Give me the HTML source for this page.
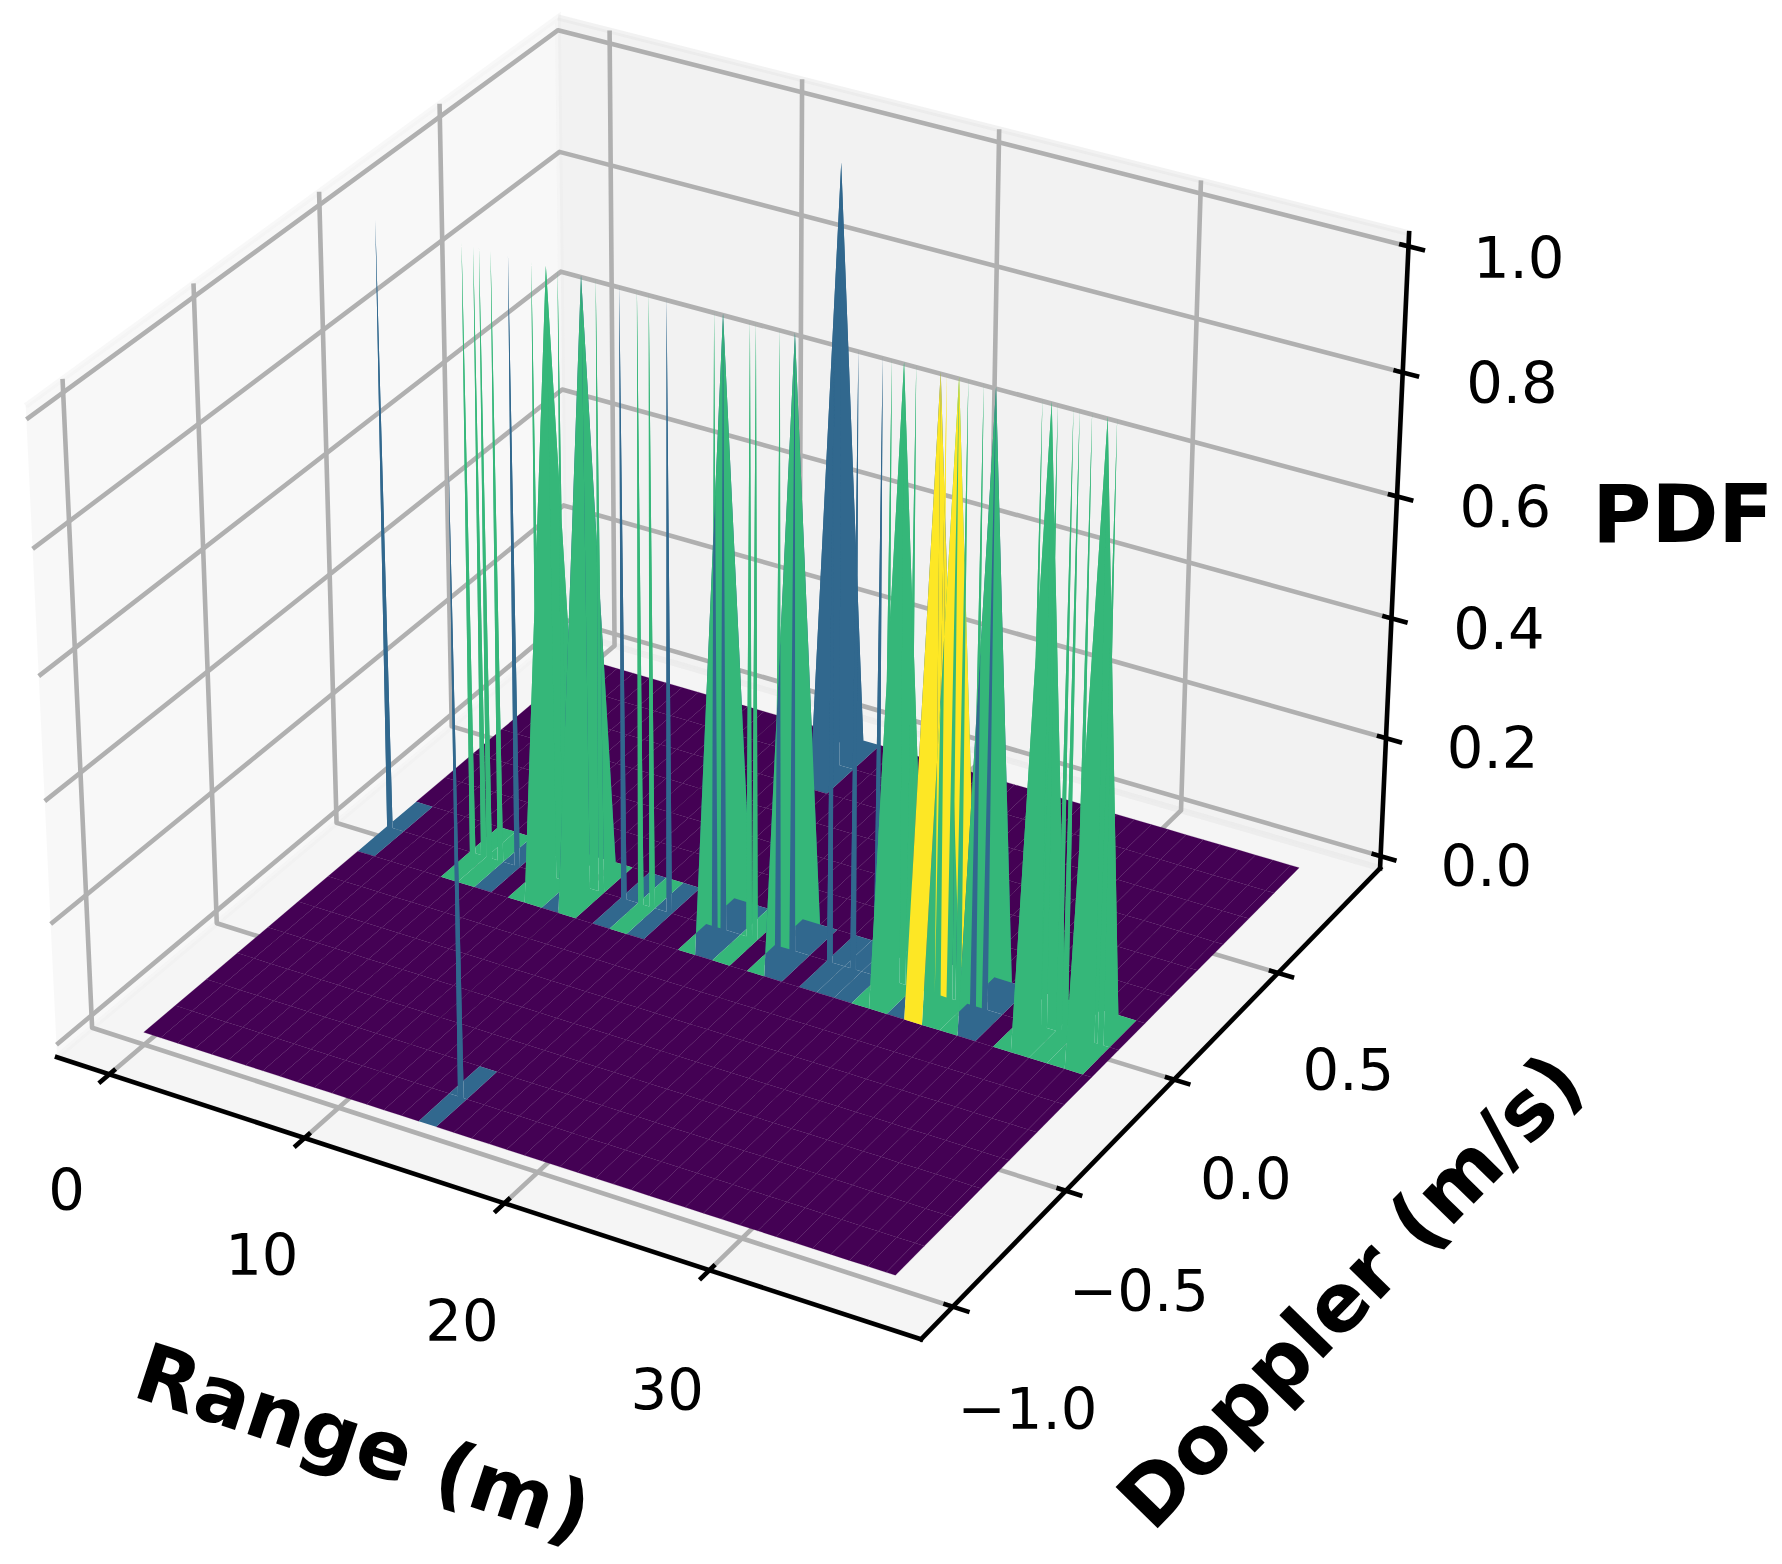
<!DOCTYPE html><html><head><meta charset="utf-8"><title>Range-Doppler PDF</title><style>html,body{margin:0;padding:0;background:#fff}svg{display:block}</style></head><body><svg width="1782" height="1564" viewBox="0 0 309.166265 271.344578"><defs><style>svg *{stroke-linejoin:round;stroke-linecap:butt}.p{fill:#440154;stroke:#440154;stroke-width:.035}.g{fill:none;stroke:#b0b0b0;stroke-width:.8}</style></defs><g><g><path d="M0 271.34 L309.17 271.34 L309.17 0 L0 0z" style="fill: #ffffff"/></g><g><path d="M-10.24 249.2 L256.6 249.2 L256.6 -17.64 L-10.24 -17.64z" style="fill: #ffffff"/></g><g><g><path d="M9.9 183.41 L98.02 109.54 L96.8 3.02 L4.46 70.4" style="fill: #f2f2f2; fill-opacity: 0.5; stroke: #f2f2f2; stroke-opacity: 0.5; stroke-linejoin: miter"/></g></g><g><g><path d="M98.02 109.54 L239.43 150.64 L244.47 40.45 L96.8 3.02" style="fill: #e6e6e6; fill-opacity: 0.5; stroke: #e6e6e6; stroke-opacity: 0.5; stroke-linejoin: miter"/></g></g><g><g><path d="M9.9 183.41 L159.8 232.36 L239.43 150.64 L98.02 109.54" style="fill: #ececec; fill-opacity: 0.5; stroke: #ececec; stroke-opacity: 0.5; stroke-linejoin: miter"/></g></g><g><g><path d="M18.98 186.37 L106.62 112.04 L105.76 5.29" class="g"/><path d="M52.83 197.43 L138.65 121.35 L139.16 13.76" class="g"/><path d="M87.52 208.76 L171.4 130.87 L173.35 22.42" class="g"/><path d="M123.07 220.37 L204.9 140.61 L208.36 31.29" class="g"/></g></g><g><g><path d="M10.85 65.74 L15.98 178.32 L165.31 226.71" class="g"/><path d="M33.57 49.16 L37.61 160.18 L184.91 206.59" class="g"/><path d="M55.36 33.26 L58.39 142.76 L203.7 187.31" class="g"/><path d="M76.26 18 L78.37 126.02 L221.73 168.81" class="g"/></g></g><g><g><path d="M239.52 148.53 L98 107.5 L9.8 181.25" class="g"/><path d="M240.46 128.08 L97.77 87.69 L8.79 160.3" class="g"/><path d="M241.41 107.28 L97.54 67.57 L7.76 138.99" class="g"/><path d="M242.38 86.13 L97.31 47.13 L6.72 117.3" class="g"/><path d="M243.37 64.63 L97.07 26.35 L5.66 95.23" class="g"/><path d="M244.37 42.75 L96.82 5.24 L4.58 72.76" class="g"/></g></g><g><g><path d="M9.9 183.41 L159.8 232.36" style="fill: none; stroke: #000000; stroke-width: 0.8; stroke-linecap: square"/></g><g><g><path d="M19.75 185.73 L17.45 187.67" style="fill: none; stroke: #000000; stroke-width: 0.8; stroke-linecap: square"/></g><g><text style="font-size: 10px; font-family: 'DejaVu Sans', 'Liberation Sans', sans-serif; text-anchor: middle" x="11.54" y="209.87">0</text></g></g><g><g><path d="M53.58 196.77 L51.33 198.76" style="fill: none; stroke: #000000; stroke-width: 0.8; stroke-linecap: square"/></g><g><text style="font-size: 10px; font-family: 'DejaVu Sans', 'Liberation Sans', sans-serif; text-anchor: middle" x="45.43" y="221.16">10</text></g></g><g><g><path d="M88.25 208.08 L86.05 210.12" style="fill: none; stroke: #000000; stroke-width: 0.8; stroke-linecap: square"/></g><g><text style="font-size: 10px; font-family: 'DejaVu Sans', 'Liberation Sans', sans-serif; text-anchor: middle" x="80.15" y="232.73">20</text></g></g><g><g><path d="M123.79 219.67 L121.64 221.77" style="fill: none; stroke: #000000; stroke-width: 0.8; stroke-linecap: square"/></g><g><text style="font-size: 10px; font-family: 'DejaVu Sans', 'Liberation Sans', sans-serif; text-anchor: middle" x="115.75" y="244.59">30</text></g></g><g><text style="font-weight: 700; font-size: 14px; font-family: 'DejaVu Sans', 'Liberation Sans', sans-serif; text-anchor: middle" x="61.54" y="254.87" transform="rotate(-341.91 61.54 254.87)">Range (m)</text></g></g><g><g><path d="M239.43 150.64 L159.8 232.36" style="fill: none; stroke: #000000; stroke-width: 0.8; stroke-linecap: square"/></g><g><g><path d="M164.05 226.3 L167.83 227.53" style="fill: none; stroke: #000000; stroke-width: 0.8; stroke-linecap: square"/></g><g><text style="font-size: 10px; font-family: 'DejaVu Sans', 'Liberation Sans', sans-serif; text-anchor: middle" x="178.27" y="247.92">−1.0</text></g></g><g><g><path d="M183.67 206.2 L187.39 207.37" style="fill: none; stroke: #000000; stroke-width: 0.8; stroke-linecap: square"/></g><g><text style="font-size: 10px; font-family: 'DejaVu Sans', 'Liberation Sans', sans-serif; text-anchor: middle" x="197.62" y="227.50">−0.5</text></g></g><g><g><path d="M202.48 186.93 L206.15 188.06" style="fill: none; stroke: #000000; stroke-width: 0.8; stroke-linecap: square"/></g><g><text style="font-size: 10px; font-family: 'DejaVu Sans', 'Liberation Sans', sans-serif; text-anchor: middle" x="216.16" y="207.94">0.0</text></g></g><g><g><path d="M220.52 168.45 L224.14 169.53" style="fill: none; stroke: #000000; stroke-width: 0.8; stroke-linecap: square"/></g><g><text style="font-size: 10px; font-family: 'DejaVu Sans', 'Liberation Sans', sans-serif; text-anchor: middle" x="233.94" y="189.17">0.5</text></g></g><g><text style="font-weight: 700; font-size: 14px; font-family: 'DejaVu Sans', 'Liberation Sans', sans-serif; text-anchor: middle" x="237.70" y="227.31" transform="rotate(-45.74 237.70 227.31)">Doppler (m/s)</text></g></g><g><g><path d="M239.43 150.64 L244.47 40.45" style="fill: none; stroke: #000000; stroke-width: 0.8; stroke-linecap: square"/></g><g><g><path d="M238.34 148.19 L241.9 149.22" style="fill: none; stroke: #000000; stroke-width: 0.8; stroke-linecap: square"/></g><g><text style="font-size: 10px; font-family: 'DejaVu Sans', 'Liberation Sans', sans-serif; text-anchor: middle" x="257.87" y="153.72">0.0</text></g></g><g><g><path d="M239.26 127.74 L242.86 128.76" style="fill: none; stroke: #000000; stroke-width: 0.8; stroke-linecap: square"/></g><g><text style="font-size: 10px; font-family: 'DejaVu Sans', 'Liberation Sans', sans-serif; text-anchor: middle" x="258.96" y="133.31">0.2</text></g></g><g><g><path d="M240.2 106.95 L243.83 107.95" style="fill: none; stroke: #000000; stroke-width: 0.8; stroke-linecap: square"/></g><g><text style="font-size: 10px; font-family: 'DejaVu Sans', 'Liberation Sans', sans-serif; text-anchor: middle" x="260.06" y="112.55">0.4</text></g></g><g><g><path d="M241.16 85.81 L244.82 86.79" style="fill: none; stroke: #000000; stroke-width: 0.8; stroke-linecap: square"/></g><g><text style="font-size: 10px; font-family: 'DejaVu Sans', 'Liberation Sans', sans-serif; text-anchor: middle" x="261.18" y="91.45">0.6</text></g></g><g><g><path d="M242.14 64.31 L245.83 65.27" style="fill: none; stroke: #000000; stroke-width: 0.8; stroke-linecap: square"/></g><g><text style="font-size: 10px; font-family: 'DejaVu Sans', 'Liberation Sans', sans-serif; text-anchor: middle" x="262.32" y="69.99">0.8</text></g></g><g><g><path d="M243.13 42.43 L246.85 43.38" style="fill: none; stroke: #000000; stroke-width: 0.8; stroke-linecap: square"/></g><g><text style="font-size: 10px; font-family: 'DejaVu Sans', 'Liberation Sans', sans-serif; text-anchor: middle" x="263.49" y="48.16">1.0</text></g></g><g><text style="font-weight: 700; font-size: 14px; font-family: 'DejaVu Sans', 'Liberation Sans', sans-serif; text-anchor: middle" x="291.97" y="94.11">PDF</text></g></g><g><g><path d="M96.7 118.38 L99.51 119.2 L104.25 115.17 L101.46 114.35z" class="p"/><path d="M99.51 119.2 L102.32 120.03 L107.06 115.99 L104.25 115.17z" class="p"/><path d="M102.32 120.03 L105.14 120.86 L109.87 116.81 L107.06 115.99z" class="p"/><path d="M105.14 120.86 L107.96 121.69 L112.68 117.63 L109.87 116.81z" class="p"/><path d="M107.96 121.69 L110.79 122.52 L115.5 118.45 L112.68 117.63z" class="p"/><path d="M91.9 122.44 L94.71 123.27 L99.51 119.2 L96.7 118.38z" class="p"/><path d="M110.79 122.52 L113.62 123.35 L118.33 119.28 L115.5 118.45z" class="p"/><path d="M94.71 123.27 L97.53 124.11 L102.32 120.03 L99.51 119.2z" class="p"/><path d="M113.62 123.35 L116.46 124.19 L121.16 120.1 L118.33 119.28z" class="p"/><path d="M97.53 124.11 L100.36 124.94 L105.14 120.86 L102.32 120.03z" class="p"/><path d="M116.46 124.19 L119.31 125.02 L123.99 120.93 L121.16 120.1z" class="p"/><path d="M100.36 124.94 L103.19 125.78 L107.96 121.69 L105.14 120.86z" class="p"/><path d="M119.31 125.02 L122.16 125.86 L126.84 121.76 L123.99 120.93z" class="p"/><path d="M103.19 125.78 L106.03 126.62 L110.79 122.52 L107.96 121.69z" class="p"/><path d="M122.16 125.86 L125.02 126.7 L129.68 122.59 L126.84 121.76z" class="p"/><path d="M87.05 126.54 L89.87 127.38 L94.71 123.27 L91.9 122.44z" class="p"/><path d="M106.03 126.62 L108.87 127.46 L113.62 123.35 L110.79 122.52z" class="p"/><path d="M125.02 126.7 L127.88 127.54 L132.54 123.43 L129.68 122.59z" class="p"/><path d="M89.87 127.38 L92.7 128.23 L97.53 124.11 L94.71 123.27z" class="p"/><path d="M108.87 127.46 L111.72 128.31 L116.46 124.19 L113.62 123.35z" class="p"/><path d="M127.88 127.54 L130.75 128.38 L135.4 124.26 L132.54 123.43z" class="p"/><path d="M92.7 128.23 L95.54 129.07 L100.36 124.94 L97.53 124.11z" class="p"/><path d="M111.72 128.31 L114.58 129.15 L119.31 125.02 L116.46 124.19z" class="p"/><path d="M130.75 128.38 L133.62 129.23 L138.26 125.1 L135.4 124.26z" class="p"/><path d="M95.54 129.07 L98.38 129.92 L103.19 125.78 L100.36 124.94z" class="p"/><path d="M114.58 129.15 L117.44 130 L122.16 125.86 L119.31 125.02z" class="p"/><path d="M133.62 129.23 L136.5 130.07 L141.13 125.94 L138.26 125.1z" class="p"/><path d="M98.38 129.92 L101.22 130.77 L106.03 126.62 L103.19 125.78z" class="p"/><path d="M117.44 130 L120.3 130.84 L125.02 126.7 L122.16 125.86z" class="p"/><path d="M136.5 130.07 L139.39 130.92 L144.01 126.78 L141.13 125.94z" class="p"/><path d="M82.15 130.69 L84.98 131.54 L89.87 127.38 L87.05 126.54z" class="p"/><path d="M101.22 130.77 L104.08 131.61 L108.87 127.46 L106.03 126.62z" class="p"/><path d="M120.3 130.84 L123.18 131.69 L127.88 127.54 L125.02 126.7z" class="p"/><path d="M139.39 130.92 L142.28 131.77 L146.89 127.62 L144.01 126.78z" class="p"/><path d="M84.98 131.54 L87.82 132.39 L92.7 128.23 L89.87 127.38z" class="p"/><path d="M104.08 131.61 L106.94 132.47 L111.72 128.31 L108.87 127.46z" class="p"/><path d="M123.18 131.69 L126.05 132.54 L130.75 128.38 L127.88 127.54z" class="p"/><path d="M87.82 132.39 L90.67 133.24 L95.54 129.07 L92.7 128.23z" class="p"/><path d="M106.94 132.47 L109.8 133.32 L114.58 129.15 L111.72 128.31z" class="p"/><path d="M126.05 132.54 L128.94 133.4 L133.62 129.23 L130.75 128.38z" class="p"/><path d="M90.67 133.24 L93.52 134.09 L98.38 129.92 L95.54 129.07z" class="p"/><path d="M109.8 133.32 L112.67 134.17 L117.44 130 L114.58 129.15z" class="p"/><path d="M128.94 133.4 L131.83 134.25 L136.5 130.07 L133.62 129.23z" class="p"/><path d="M148.08 133.48 L150.99 134.33 L155.57 130.15 L152.67 129.31z" class="p"/><path d="M93.52 134.09 L96.37 134.95 L101.22 130.77 L98.38 129.92z" class="p"/><path d="M112.67 134.17 L115.55 135.03 L120.3 130.84 L117.44 130z" class="p"/><path d="M131.83 134.25 L134.72 135.11 L139.39 130.92 L136.5 130.07z" class="p"/><path d="M150.99 134.33 L153.9 135.19 L158.48 131 L155.57 130.15z" class="p"/><path d="M142.28 131.77 L144.69 132.48 L145.95 28.19 L149.78 128.46 L146.89 127.62z" style="fill: #31688e"/><path d="M77.2 134.87 L80.04 135.73 L84.98 131.54 L82.15 130.69z" class="p"/><path d="M96.37 134.95 L99.23 135.81 L104.08 131.61 L101.22 130.77z" class="p"/><path d="M115.55 135.03 L118.43 135.89 L123.18 131.69 L120.3 130.84z" class="p"/><path d="M134.72 135.11 L137.62 135.97 L142.28 131.77 L139.39 130.92z" class="p"/><path d="M153.9 135.19 L156.82 136.05 L161.39 131.85 L158.48 131z" class="p"/><path d="M145.95 28.19 L145.66 132.77 L148.08 133.48 L152.67 129.31 L149.78 128.46z" style="fill: #31688e"/><path d="M80.04 135.73 L82.89 136.59 L87.82 132.39 L84.98 131.54z" class="p"/><path d="M99.23 135.81 L102.1 136.67 L106.94 132.47 L104.08 131.61z" class="p"/><path d="M118.43 135.89 L121.31 136.75 L126.05 132.54 L123.18 131.69z" class="p"/><path d="M156.82 136.05 L159.75 136.91 L164.3 132.7 L161.39 131.85z" class="p"/><path d="M82.89 136.59 L85.75 137.45 L90.67 133.24 L87.82 132.39z" class="p"/><path d="M102.1 136.67 L104.98 137.53 L109.8 133.32 L106.94 132.47z" class="p"/><path d="M121.31 136.75 L124.21 137.61 L128.94 133.4 L126.05 132.54z" class="p"/><path d="M159.75 136.91 L162.68 137.77 L167.22 133.56 L164.3 132.7z" class="p"/><path d="M85.75 137.45 L88.61 138.31 L93.52 134.09 L90.67 133.24z" class="p"/><path d="M104.98 137.53 L107.85 138.39 L112.67 134.17 L109.8 133.32z" class="p"/><path d="M124.21 137.61 L127.11 138.47 L131.83 134.25 L128.94 133.4z" class="p"/><path d="M143.44 137.69 L146.36 138.55 L150.99 134.33 L148.08 133.48z" class="p"/><path d="M162.68 137.77 L165.62 138.63 L170.15 134.41 L167.22 133.56z" class="p"/><path d="M88.61 138.31 L91.47 139.18 L96.37 134.95 L93.52 134.09z" class="p"/><path d="M107.85 138.39 L110.74 139.26 L115.55 135.03 L112.67 134.17z" class="p"/><path d="M127.11 138.47 L130.01 139.34 L134.72 135.11 L131.83 134.25z" class="p"/><path d="M137.62 135.97 L140.53 136.83 L145.95 28.19 L144.69 132.48 L142.28 131.77z" style="fill: #31688e"/><path d="M146.36 138.55 L149.29 139.42 L153.9 135.19 L150.99 134.33z" class="p"/><path d="M165.62 138.63 L168.56 139.5 L173.09 135.27 L170.15 134.41z" class="p"/><path d="M72.21 139.1 L75.06 139.96 L80.04 135.73 L77.2 134.87z" class="p"/><path d="M91.47 139.18 L94.34 140.04 L99.23 135.81 L96.37 134.95z" class="p"/><path d="M110.74 139.26 L113.63 140.12 L118.43 135.89 L115.55 135.03z" class="p"/><path d="M130.01 139.34 L132.92 140.2 L137.62 135.97 L134.72 135.11z" class="p"/><path d="M140.53 136.83 L143.44 137.69 L148.08 133.48 L145.66 132.77 L145.95 28.19z" style="fill: #31688e"/><path d="M149.29 139.42 L152.22 140.28 L156.82 136.05 L153.9 135.19z" class="p"/><path d="M168.56 139.5 L171.51 140.36 L176.03 136.13 L173.09 135.27z" class="p"/><path d="M75.06 139.96 L77.92 140.83 L82.89 136.59 L80.04 135.73z" class="p"/><path d="M94.34 140.04 L97.22 140.91 L102.1 136.67 L99.23 135.81z" class="p"/><path d="M113.63 140.12 L116.53 140.99 L121.31 136.75 L118.43 135.89z" class="p"/><path d="M132.92 140.2 L135.84 141.07 L140.53 136.83 L137.62 135.97z" class="p"/><path d="M152.22 140.28 L155.15 141.15 L159.75 136.91 L156.82 136.05z" class="p"/><path d="M171.51 140.36 L174.47 141.23 L178.97 136.99 L176.03 136.13z" class="p"/><path d="M77.92 140.83 L80.78 141.7 L85.75 137.45 L82.89 136.59z" class="p"/><path d="M97.22 140.91 L100.1 141.78 L104.98 137.53 L102.1 136.67z" class="p"/><path d="M116.53 140.99 L119.43 141.86 L124.21 137.61 L121.31 136.75z" class="p"/><path d="M135.84 141.07 L138.76 141.94 L143.44 137.69 L140.53 136.83z" class="p"/><path d="M155.15 141.15 L158.09 142.02 L162.68 137.77 L159.75 136.91z" class="p"/><path d="M174.47 141.23 L177.43 142.1 L181.92 137.85 L178.97 136.99z" class="p"/><path d="M80.78 141.7 L83.65 142.57 L88.61 138.31 L85.75 137.45z" class="p"/><path d="M100.1 141.78 L102.99 142.65 L107.85 138.39 L104.98 137.53z" class="p"/><path d="M119.43 141.86 L122.34 142.73 L127.11 138.47 L124.21 137.61z" class="p"/><path d="M138.76 141.94 L141.69 142.81 L146.36 138.55 L143.44 137.69z" class="p"/><path d="M158.09 142.02 L161.04 142.89 L165.62 138.63 L162.68 137.77z" class="p"/><path d="M177.43 142.1 L180.4 142.98 L184.88 138.71 L181.92 137.85z" class="p"/><path d="M83.65 142.57 L86.52 143.44 L91.47 139.18 L88.61 138.31z" class="p"/><path d="M102.99 142.65 L105.89 143.53 L110.74 139.26 L107.85 138.39z" class="p"/><path d="M122.34 142.73 L125.25 143.61 L130.01 139.34 L127.11 138.47z" class="p"/><path d="M141.69 142.81 L144.62 143.69 L149.29 139.42 L146.36 138.55z" class="p"/><path d="M161.04 142.89 L164 143.77 L168.56 139.5 L165.62 138.63z" class="p"/><path d="M180.4 142.98 L183.37 143.85 L187.85 139.58 L184.88 138.71z" class="p"/><path d="M86.52 143.44 L89.4 144.32 L94.34 140.04 L91.47 139.18z" class="p"/><path d="M105.89 143.53 L108.79 144.4 L113.63 140.12 L110.74 139.26z" class="p"/><path d="M125.25 143.61 L128.17 144.48 L132.92 140.2 L130.01 139.34z" class="p"/><path d="M144.62 143.69 L147.56 144.56 L152.22 140.28 L149.29 139.42z" class="p"/><path d="M164 143.77 L166.96 144.64 L171.51 140.36 L168.56 139.5z" class="p"/><path d="M183.37 143.85 L186.35 144.73 L190.82 140.44 L187.85 139.58z" class="p"/><path d="M70.02 144.24 L72.89 145.12 L77.92 140.83 L75.06 139.96z" class="p"/><path d="M89.4 144.32 L92.29 145.2 L97.22 140.91 L94.34 140.04z" class="p"/><path d="M108.79 144.4 L111.69 145.28 L116.53 140.99 L113.63 140.12z" class="p"/><path d="M128.17 144.48 L131.1 145.36 L135.84 141.07 L132.92 140.2z" class="p"/><path d="M147.56 144.56 L150.51 145.44 L155.15 141.15 L152.22 140.28z" class="p"/><path d="M166.96 144.64 L169.92 145.52 L174.47 141.23 L171.51 140.36z" class="p"/><path d="M186.35 144.73 L189.34 145.6 L193.79 141.31 L190.82 140.44z" class="p"/><path d="M72.89 145.12 L75.76 145.99 L80.78 141.7 L77.92 140.83z" class="p"/><path d="M92.29 145.2 L95.18 146.08 L100.1 141.78 L97.22 140.91z" class="p"/><path d="M111.69 145.28 L114.6 146.16 L119.43 141.86 L116.53 140.99z" class="p"/><path d="M131.1 145.36 L134.03 146.24 L138.76 141.94 L135.84 141.07z" class="p"/><path d="M150.51 145.44 L153.46 146.32 L158.09 142.02 L155.15 141.15z" class="p"/><path d="M169.92 145.52 L172.89 146.4 L177.43 142.1 L174.47 141.23z" class="p"/><path d="M189.34 145.6 L192.33 146.48 L196.77 142.18 L193.79 141.31z" class="p"/><path d="M75.76 145.99 L78.64 146.87 L83.65 142.57 L80.78 141.7z" class="p"/><path d="M67.16 143.36 L65.11 38.15 L68.12 143.66 L70.02 144.24 L75.06 139.96 L72.21 139.1z" style="fill: #31688e"/><path d="M95.18 146.08 L98.08 146.96 L102.99 142.65 L100.1 141.78z" class="p"/><path d="M114.6 146.16 L117.52 147.04 L122.34 142.73 L119.43 141.86z" class="p"/><path d="M134.03 146.24 L136.97 147.12 L141.69 142.81 L138.76 141.94z" class="p"/><path d="M153.46 146.32 L156.42 147.2 L161.04 142.89 L158.09 142.02z" class="p"/><path d="M172.89 146.4 L175.87 147.28 L180.4 142.98 L177.43 142.1z" class="p"/><path d="M192.33 146.48 L195.33 147.36 L199.76 143.06 L196.77 142.18z" class="p"/><path d="M78.64 146.87 L81.52 147.76 L86.52 143.44 L83.65 142.57z" class="p"/><path d="M98.08 146.96 L100.98 147.84 L105.89 143.53 L102.99 142.65z" class="p"/><path d="M117.52 147.04 L120.45 147.92 L125.25 143.61 L122.34 142.73z" class="p"/><path d="M136.97 147.12 L139.91 148 L144.62 143.69 L141.69 142.81z" class="p"/><path d="M156.42 147.2 L159.38 148.08 L164 143.77 L161.04 142.89z" class="p"/><path d="M175.87 147.28 L178.86 148.16 L183.37 143.85 L180.4 142.98z" class="p"/><path d="M195.33 147.36 L198.33 148.25 L202.75 143.93 L199.76 143.06z" class="p"/><path d="M100.98 147.84 L103.89 148.72 L108.79 144.4 L105.89 143.53z" class="p"/><path d="M120.45 147.92 L123.38 148.8 L128.17 144.48 L125.25 143.61z" class="p"/><path d="M139.91 148 L142.86 148.88 L147.56 144.56 L144.62 143.69z" class="p"/><path d="M159.38 148.08 L162.35 148.97 L166.96 144.64 L164 143.77z" class="p"/><path d="M178.86 148.16 L181.85 149.05 L186.35 144.73 L183.37 143.85z" class="p"/><path d="M198.33 148.25 L201.34 149.13 L205.75 144.81 L202.75 143.93z" class="p"/><path d="M64.94 148.56 L67.81 149.44 L72.89 145.12 L70.02 144.24z" class="p"/><path d="M103.89 148.72 L106.81 149.61 L111.69 145.28 L108.79 144.4z" class="p"/><path d="M123.38 148.8 L126.31 149.69 L131.1 145.36 L128.17 144.48z" class="p"/><path d="M142.86 148.88 L145.82 149.77 L150.51 145.44 L147.56 144.56z" class="p"/><path d="M162.35 148.97 L165.33 149.85 L169.92 145.52 L166.96 144.64z" class="p"/><path d="M181.85 149.05 L184.84 149.94 L189.34 145.6 L186.35 144.73z" class="p"/><path d="M201.34 149.13 L204.36 150.02 L208.76 145.68 L205.75 144.81z" class="p"/><path d="M67.81 149.44 L70.7 150.33 L75.76 145.99 L72.89 145.12z" class="p"/><path d="M106.81 149.61 L109.73 150.49 L114.6 146.16 L111.69 145.28z" class="p"/><path d="M126.31 149.69 L129.25 150.58 L134.03 146.24 L131.1 145.36z" class="p"/><path d="M145.82 149.77 L148.78 150.66 L153.46 146.32 L150.51 145.44z" class="p"/><path d="M165.33 149.85 L168.31 150.74 L172.89 146.4 L169.92 145.52z" class="p"/><path d="M184.84 149.94 L187.84 150.82 L192.33 146.48 L189.34 145.6z" class="p"/><path d="M204.36 150.02 L207.38 150.91 L211.77 146.56 L208.76 145.68z" class="p"/><path d="M62.07 147.67 L64.94 148.56 L70.02 144.24 L68.12 143.66 L65.11 38.15 L67.16 143.36z" style="fill: #31688e"/><path d="M70.7 150.33 L73.58 151.22 L78.64 146.87 L75.76 145.99z" class="p"/><path d="M90.21 150.41 L93.12 151.3 L98.08 146.96 L95.18 146.08z" class="p"/><path d="M109.73 150.49 L112.66 151.38 L117.52 147.04 L114.6 146.16z" class="p"/><path d="M129.25 150.58 L132.2 151.47 L136.97 147.12 L134.03 146.24z" class="p"/><path d="M148.78 150.66 L151.75 151.55 L156.42 147.2 L153.46 146.32z" class="p"/><path d="M168.31 150.74 L171.3 151.63 L175.87 147.28 L172.89 146.4z" class="p"/><path d="M187.84 150.82 L190.85 151.71 L195.33 147.36 L192.33 146.48z" class="p"/><path d="M207.38 150.91 L210.41 151.8 L214.79 147.44 L211.77 146.56z" class="p"/><path d="M73.58 151.22 L76.48 152.11 L81.52 147.76 L78.64 146.87z" class="p"/><path d="M112.66 151.38 L115.59 152.27 L120.45 147.92 L117.52 147.04z" class="p"/><path d="M132.2 151.47 L135.16 152.36 L139.91 148 L136.97 147.12z" class="p"/><path d="M151.75 151.55 L154.72 152.44 L159.38 148.08 L156.42 147.2z" class="p"/><path d="M171.3 151.63 L174.29 152.52 L178.86 148.16 L175.87 147.28z" class="p"/><path d="M190.85 151.71 L193.87 152.6 L198.33 148.25 L195.33 147.36z" class="p"/><path d="M210.41 151.8 L213.45 152.69 L217.81 148.33 L214.79 147.44z" class="p"/><path d="M56.92 152.03 L59.8 152.92 L64.94 148.56 L62.07 147.67z" class="p"/><path d="M87.31 149.52 L89.24 150.12 L88.13 44.34 L90.21 150.41 L95.18 146.08 L92.29 145.2z" style="fill: #31688e"/><path d="M115.59 152.27 L118.53 153.17 L123.38 148.8 L120.45 147.92z" class="p"/><path d="M135.16 152.36 L138.12 153.25 L142.86 148.88 L139.91 148z" class="p"/><path d="M154.72 152.44 L157.7 153.33 L162.35 148.97 L159.38 148.08z" class="p"/><path d="M174.29 152.52 L177.29 153.42 L181.85 149.05 L178.86 148.16z" class="p"/><path d="M193.87 152.6 L196.89 153.5 L201.34 149.13 L198.33 148.25z" class="p"/><path d="M213.45 152.69 L216.49 153.58 L220.84 149.21 L217.81 148.33z" class="p"/><path d="M59.8 152.92 L62.69 153.81 L67.81 149.44 L64.94 148.56z" class="p"/><path d="M81.52 147.76 L80.08 42.17 L82.49 148.05 L83.45 148.34 L82.09 42.71 L84.41 148.64 L89.4 144.32 L86.52 143.44z" style="fill: #35b779"/><path d="M118.53 153.17 L121.48 154.06 L126.31 149.69 L123.38 148.8z" class="p"/><path d="M138.12 153.25 L141.08 154.15 L145.82 149.77 L142.86 148.88z" class="p"/><path d="M157.7 153.33 L160.69 154.23 L165.33 149.85 L162.35 148.97z" class="p"/><path d="M177.29 153.42 L180.3 154.31 L184.84 149.94 L181.85 149.05z" class="p"/><path d="M196.89 153.5 L199.92 154.39 L204.36 150.02 L201.34 149.13z" class="p"/><path d="M216.49 153.58 L219.54 154.48 L223.88 150.1 L220.84 149.21z" class="p"/><path d="M62.69 153.81 L65.58 154.71 L70.7 150.33 L67.81 149.44z" class="p"/><path d="M84.41 148.64 L83.1 42.98 L85.38 148.93 L86.34 149.23 L85.11 43.52 L87.31 149.52 L92.29 145.2 L89.4 144.32z" style="fill: #35b779"/><path d="M121.48 154.06 L124.43 154.96 L129.25 150.58 L126.31 149.69z" class="p"/><path d="M141.08 154.15 L144.05 155.04 L148.78 150.66 L145.82 149.77z" class="p"/><path d="M160.69 154.23 L163.68 155.13 L168.31 150.74 L165.33 149.85z" class="p"/><path d="M219.54 154.48 L221.06 154.93 L225.4 150.54 L223.88 150.1z" class="p"/><path d="M180.3 154.31 L183.31 155.21 L187.84 150.82 L184.84 149.94z" class="p"/><path d="M199.92 154.39 L202.95 155.29 L207.38 150.91 L204.36 150.02z" class="p"/><path d="M65.58 154.71 L68.47 155.61 L73.58 151.22 L70.7 150.33z" class="p"/><path d="M85.19 154.79 L88.11 155.69 L93.12 151.3 L90.21 150.41z" class="p"/><path d="M104.81 154.88 L107.75 155.77 L112.66 151.38 L109.73 150.49z" class="p"/><path d="M124.43 154.96 L127.39 155.86 L132.2 151.47 L129.25 150.58z" class="p"/><path d="M144.05 155.04 L147.03 155.94 L151.75 151.55 L148.78 150.66z" class="p"/><path d="M163.68 155.13 L166.68 156.02 L171.3 151.63 L168.31 150.74z" class="p"/><path d="M183.31 155.21 L186.33 156.11 L190.85 151.71 L187.84 150.82z" class="p"/><path d="M202.95 155.29 L205.99 156.19 L210.41 151.8 L207.38 150.91z" class="p"/><path d="M68.47 155.61 L71.38 156.51 L76.48 152.11 L73.58 151.22z" class="p"/><path d="M98.95 153.08 L101.39 153.83 L100.8 47.74 L106.81 149.61 L103.89 148.72z" style="fill: #31688e"/><path d="M127.39 155.86 L130.35 156.76 L135.16 152.36 L132.2 151.47z" class="p"/><path d="M147.03 155.94 L150.02 156.84 L154.72 152.44 L151.75 151.55z" class="p"/><path d="M166.68 156.02 L169.68 156.92 L174.29 152.52 L171.3 151.63z" class="p"/><path d="M186.33 156.11 L189.36 157.01 L193.87 152.6 L190.85 151.71z" class="p"/><path d="M205.99 156.19 L209.03 157.09 L213.45 152.69 L210.41 151.8z" class="p"/><path d="M51.73 156.42 L54.61 157.33 L59.8 152.92 L56.92 152.03z" class="p"/><path d="M71.38 156.51 L74.28 157.41 L79.37 153 L76.48 152.11z" class="p"/><path d="M82.28 153.9 L85.19 154.79 L90.21 150.41 L88.13 44.34 L89.24 150.12 L87.31 149.52z" style="fill: #31688e"/><path d="M93.12 151.3 L92.17 45.42 L94.09 151.6 L95.55 152.04 L94.7 46.1 L100.98 147.84 L98.08 146.96z" style="fill: #35b779"/><path d="M130.35 156.76 L133.32 157.66 L138.12 153.25 L135.16 152.36z" class="p"/><path d="M150.02 156.84 L153.01 157.74 L157.7 153.33 L154.72 152.44z" class="p"/><path d="M169.68 156.92 L172.7 157.83 L177.29 153.42 L174.29 152.52z" class="p"/><path d="M189.36 157.01 L192.39 157.91 L196.89 153.5 L193.87 152.6z" class="p"/><path d="M209.03 157.09 L212.09 157.99 L216.49 153.58 L213.45 152.69z" class="p"/><path d="M54.61 157.33 L57.51 158.23 L62.69 153.81 L59.8 152.92z" class="p"/><path d="M74.28 157.41 L77.2 158.31 L82.28 153.9 L79.37 153z" class="p"/><path d="M76.48 152.11 L79.37 153 L84.41 148.64 L82.09 42.71 L83.45 148.34 L82.49 148.05 L80.08 42.17 L81.52 147.76z" style="fill: #35b779"/><path d="M94.7 46.1 L96.52 152.34 L97.49 152.64 L96.73 46.65 L98.46 152.94 L98.95 153.08 L103.89 148.72 L100.98 147.84z" style="fill: #35b779"/><path d="M133.32 157.66 L136.3 158.56 L141.08 154.15 L138.12 153.25z" class="p"/><path d="M153.01 157.74 L156 158.65 L160.69 154.23 L157.7 153.33z" class="p"/><path d="M172.7 157.83 L175.71 158.73 L180.3 154.31 L177.29 153.42z" class="p"/><path d="M192.39 157.91 L195.43 158.82 L199.92 154.39 L196.89 153.5z" class="p"/><path d="M212.09 157.99 L215.14 158.9 L219.54 154.48 L216.49 153.58z" class="p"/><path d="M57.51 158.23 L60.41 159.13 L65.58 154.71 L62.69 153.81z" class="p"/><path d="M77.2 158.31 L80.12 159.22 L85.19 154.79 L82.28 153.9z" class="p"/><path d="M79.37 153 L82.28 153.9 L87.31 149.52 L85.11 43.52 L86.34 149.23 L85.38 148.93 L83.1 42.98 L84.41 148.64z" style="fill: #35b779"/><path d="M116.59 158.48 L119.55 159.39 L124.43 154.96 L121.48 154.06z" class="p"/><path d="M107.75 155.77 L107.43 49.52 L108.73 156.07 L110.69 156.67 L115.59 152.27 L112.66 151.38z" style="fill: #31688e"/><path d="M136.3 158.56 L139.28 159.47 L144.05 155.04 L141.08 154.15z" class="p"/><path d="M156 158.65 L159.01 159.55 L163.68 155.13 L160.69 154.23z" class="p"/><path d="M215.14 158.9 L216.68 159.35 L221.06 154.93 L219.54 154.48z" class="p"/><path d="M175.71 158.73 L178.74 159.64 L183.31 155.21 L180.3 154.31z" class="p"/><path d="M195.43 158.82 L198.47 159.72 L202.95 155.29 L199.92 154.39z" class="p"/><path d="M60.41 159.13 L63.31 160.04 L68.47 155.61 L65.58 154.71z" class="p"/><path d="M80.12 159.22 L83.05 160.13 L88.11 155.69 L85.19 154.79z" class="p"/><path d="M99.84 159.3 L102.78 160.21 L107.75 155.77 L104.81 154.88z" class="p"/><path d="M119.55 159.39 L122.52 160.29 L127.39 155.86 L124.43 154.96z" class="p"/><path d="M100.8 47.74 L102.36 154.13 L103.83 154.58 L103.35 48.42 L104.81 154.88 L109.73 150.49 L106.81 149.61z" style="fill: #35b779"/><path d="M139.28 159.47 L142.27 160.38 L147.03 155.94 L144.05 155.04z" class="p"/><path d="M159.01 159.55 L162.01 160.46 L166.68 156.02 L163.68 155.13z" class="p"/><path d="M178.74 159.64 L181.77 160.55 L186.33 156.11 L183.31 155.21z" class="p"/><path d="M198.47 159.72 L201.52 160.63 L205.99 156.19 L202.95 155.29z" class="p"/><path d="M63.31 160.04 L66.23 160.95 L71.38 156.51 L68.47 155.61z" class="p"/><path d="M83.05 160.13 L85.98 161.03 L91.03 156.59 L88.11 155.69z" class="p"/><path d="M93.96 157.49 L96.89 158.4 L100.8 47.74 L101.39 153.83 L98.95 153.08z" style="fill: #31688e"/><path d="M113.64 157.58 L115.61 158.18 L115.64 51.73 L116.59 158.48 L121.48 154.06 L118.53 153.17z" style="fill: #31688e"/><path d="M142.27 160.38 L145.26 161.29 L150.02 156.84 L147.03 155.94z" class="p"/><path d="M162.01 160.46 L165.03 161.37 L169.68 156.92 L166.68 156.02z" class="p"/><path d="M181.77 160.55 L184.8 161.46 L189.36 157.01 L186.33 156.11z" class="p"/><path d="M201.52 160.63 L204.58 161.54 L209.03 157.09 L205.99 156.19z" class="p"/><path d="M46.48 160.87 L49.37 161.78 L54.61 157.33 L51.73 156.42z" class="p"/><path d="M66.23 160.95 L69.14 161.86 L74.28 157.41 L71.38 156.51z" class="p"/><path d="M85.98 161.03 L88.92 161.95 L93.96 157.49 L91.03 156.59z" class="p"/><path d="M88.11 155.69 L91.03 156.59 L94.7 46.1 L95.55 152.04 L94.09 151.6 L92.17 45.42 L93.12 151.3z" style="fill: #35b779"/><path d="M145.26 161.29 L148.26 162.2 L153.01 157.74 L150.02 156.84z" class="p"/><path d="M165.03 161.37 L168.05 162.28 L172.7 157.83 L169.68 156.92z" class="p"/><path d="M184.8 161.46 L187.84 162.37 L192.39 157.91 L189.36 157.01z" class="p"/><path d="M204.58 161.54 L207.64 162.45 L212.09 157.99 L209.03 157.09z" class="p"/><path d="M49.37 161.78 L52.28 162.69 L57.51 158.23 L54.61 157.33z" class="p"/><path d="M69.14 161.86 L72.07 162.77 L77.2 158.31 L74.28 157.41z" class="p"/><path d="M88.92 161.95 L91.86 162.86 L96.89 158.4 L93.96 157.49z" class="p"/><path d="M91.03 156.59 L93.96 157.49 L98.95 153.08 L98.46 152.94 L96.73 46.65 L97.49 152.64 L96.52 152.34 L94.7 46.1z" style="fill: #35b779"/><path d="M110.69 156.67 L110.5 50.35 L111.67 156.97 L112.65 157.28 L112.55 50.9 L113.64 157.58 L118.53 153.17 L115.59 152.27z" style="fill: #35b779"/><path d="M148.26 162.2 L151.27 163.11 L156 158.65 L153.01 157.74z" class="p"/><path d="M168.05 162.28 L171.08 163.2 L175.71 158.73 L172.7 157.83z" class="p"/><path d="M187.84 162.37 L190.89 163.28 L195.43 158.82 L192.39 157.91z" class="p"/><path d="M207.64 162.45 L210.71 163.37 L215.14 158.9 L212.09 157.99z" class="p"/><path d="M52.28 162.69 L55.19 163.6 L60.41 159.13 L57.51 158.23z" class="p"/><path d="M72.07 162.77 L75 163.69 L80.12 159.22 L77.2 158.31z" class="p"/><path d="M91.86 162.86 L94.81 163.77 L99.84 159.3 L96.89 158.4z" class="p"/><path d="M102.78 160.21 L105.74 161.12 L110.69 156.67 L108.73 156.07 L107.43 49.52 L107.75 155.77z" style="fill: #31688e"/><path d="M111.66 162.94 L114.63 163.86 L119.55 159.39 L116.59 158.48z" class="p"/><path d="M131.46 163.03 L134.45 163.94 L139.28 159.47 L136.3 158.56z" class="p"/><path d="M151.27 163.11 L154.28 164.03 L159.01 159.55 L156 158.65z" class="p"/><path d="M210.71 163.37 L212.25 163.82 L216.68 159.35 L215.14 158.9z" class="p"/><path d="M171.08 163.2 L174.11 164.11 L178.74 159.64 L175.71 158.73z" class="p"/><path d="M190.89 163.28 L193.95 164.2 L198.47 159.72 L195.43 158.82z" class="p"/><path d="M55.19 163.6 L58.1 164.52 L63.31 160.04 L60.41 159.13z" class="p"/><path d="M75 163.69 L77.93 164.6 L83.05 160.13 L80.12 159.22z" class="p"/><path d="M94.81 163.77 L97.77 164.69 L102.78 160.21 L99.84 159.3z" class="p"/><path d="M96.89 158.4 L99.84 159.3 L104.81 154.88 L103.35 48.42 L103.83 154.58 L102.36 154.13 L100.8 47.74z" style="fill: #35b779"/><path d="M114.63 163.86 L117.61 164.77 L122.52 160.29 L119.55 159.39z" class="p"/><path d="M125.44 54.36 L125.99 161.35 L128.48 162.11 L133.32 157.66 L130.35 156.76z" style="fill: #31688e"/><path d="M154.28 164.03 L157.3 164.94 L162.01 160.46 L159.01 159.55z" class="p"/><path d="M174.11 164.11 L177.15 165.03 L181.77 160.55 L178.74 159.64z" class="p"/><path d="M193.95 164.2 L197.01 165.11 L201.52 160.63 L198.47 159.72z" class="p"/><path d="M58.1 164.52 L61.02 165.44 L66.23 160.95 L63.31 160.04z" class="p"/><path d="M77.93 164.6 L80.88 165.52 L85.98 161.03 L83.05 160.13z" class="p"/><path d="M97.77 164.69 L100.73 165.61 L105.74 161.12 L102.78 160.21z" class="p"/><path d="M108.69 162.03 L111.66 162.94 L116.59 158.48 L115.64 51.73 L115.61 158.18 L113.64 157.58z" style="fill: #31688e"/><path d="M157.3 164.94 L160.33 165.86 L165.03 161.37 L162.01 160.46z" class="p"/><path d="M177.15 165.03 L180.2 165.95 L184.8 161.46 L181.77 160.55z" class="p"/><path d="M197.01 165.11 L200.08 166.03 L204.58 161.54 L201.52 160.63z" class="p"/><path d="M41.17 165.35 L44.08 166.27 L49.37 161.78 L46.48 160.87z" class="p"/><path d="M61.02 165.44 L63.95 166.36 L69.14 161.86 L66.23 160.95z" class="p"/><path d="M80.88 165.52 L83.82 166.44 L88.92 161.95 L85.98 161.03z" class="p"/><path d="M100.73 165.61 L103.7 166.53 L108.69 162.03 L105.74 161.12z" class="p"/><path d="M140.46 165.78 L143.47 166.7 L148.26 162.2 L145.26 161.29z" class="p"/><path d="M122.52 160.29 L123.51 160.6 L123.89 53.95 L124.5 160.9 L125 161.05 L125.44 54.36 L130.35 156.76 L127.39 155.86z" style="fill: #35b779"/><path d="M160.33 165.86 L163.36 166.78 L168.05 162.28 L165.03 161.37z" class="p"/><path d="M180.2 165.95 L183.25 166.87 L187.84 162.37 L184.8 161.46z" class="p"/><path d="M200.08 166.03 L203.15 166.95 L207.64 162.45 L204.58 161.54z" class="p"/><path d="M44.08 166.27 L46.99 167.19 L52.28 162.69 L49.37 161.78z" class="p"/><path d="M63.95 166.36 L66.88 167.28 L72.07 162.77 L69.14 161.86z" class="p"/><path d="M83.82 166.44 L86.78 167.37 L91.86 162.86 L88.92 161.95z" class="p"/><path d="M103.7 166.53 L106.68 167.45 L111.66 162.94 L108.69 162.03z" class="p"/><path d="M105.74 161.12 L108.69 162.03 L113.64 157.58 L112.55 50.9 L112.65 157.28 L111.67 156.97 L110.5 50.35 L110.69 156.67z" style="fill: #35b779"/><path d="M163.36 166.78 L166.4 167.71 L171.08 163.2 L168.05 162.28z" class="p"/><path d="M183.25 166.87 L186.31 167.79 L190.89 163.28 L187.84 162.37z" class="p"/><path d="M203.15 166.95 L206.23 167.88 L210.71 163.37 L207.64 162.45z" class="p"/><path d="M46.99 167.19 L49.91 168.12 L55.19 163.6 L52.28 162.69z" class="p"/><path d="M66.88 167.28 L69.82 168.2 L75 163.69 L72.07 162.77z" class="p"/><path d="M86.78 167.37 L89.74 168.29 L94.81 163.77 L91.86 162.86z" class="p"/><path d="M106.68 167.45 L109.66 168.37 L114.63 163.86 L111.66 162.94z" class="p"/><path d="M126.58 167.54 L129.58 168.46 L134.45 163.94 L131.46 163.03z" class="p"/><path d="M137.92 57.72 L137.95 165.01 L140.46 165.78 L145.26 161.29 L142.27 160.38z" style="fill: #31688e"/><path d="M206.23 167.88 L207.77 168.34 L212.25 163.82 L210.71 163.37z" class="p"/><path d="M128.48 162.11 L129.47 162.42 L130.11 55.62 L130.47 162.72 L131.15 55.9 L131.46 163.03 L136.3 158.56 L133.32 157.66z" style="fill: #35b779"/><path d="M166.4 167.71 L169.44 168.63 L174.11 164.11 L171.08 163.2z" class="p"/><path d="M186.31 167.79 L189.38 168.72 L193.95 164.2 L190.89 163.28z" class="p"/><path d="M49.91 168.12 L52.83 169.04 L58.1 164.52 L55.19 163.6z" class="p"/><path d="M69.82 168.2 L72.77 169.13 L77.93 164.6 L75 163.69z" class="p"/><path d="M89.74 168.29 L92.7 169.22 L97.77 164.69 L94.81 163.77z" class="p"/><path d="M109.66 168.37 L112.65 169.3 L117.61 164.77 L114.63 163.86z" class="p"/><path d="M120.59 165.69 L123.58 166.61 L128.48 162.11 L125.99 161.35 L125.44 54.36z" style="fill: #31688e"/><path d="M169.44 168.63 L172.49 169.56 L177.15 165.03 L174.11 164.11z" class="p"/><path d="M189.38 168.72 L192.45 169.64 L197.01 165.11 L193.95 164.2z" class="p"/><path d="M52.83 169.04 L55.76 169.97 L61.02 165.44 L58.1 164.52z" class="p"/><path d="M72.77 169.13 L75.72 170.06 L80.88 165.52 L77.93 164.6z" class="p"/><path d="M92.7 169.22 L95.68 170.14 L100.73 165.61 L97.77 164.69z" class="p"/><path d="M112.65 169.3 L115.64 170.23 L120.59 165.69 L117.61 164.77z" class="p"/><path d="M143.47 166.7 L144.73 59.55 L144.47 167.01 L146.49 167.62 L151.27 163.11 L148.26 162.2z" style="fill: #31688e"/><path d="M134.45 163.94 L135.31 57.02 L135.45 164.25 L136.95 164.71 L137.92 57.72 L142.27 160.38 L139.28 159.47z" style="fill: #35b779"/><path d="M172.49 169.56 L175.55 170.49 L180.2 165.95 L177.15 165.03z" class="p"/><path d="M192.45 169.64 L195.53 170.57 L200.08 166.03 L197.01 165.11z" class="p"/><path d="M35.81 169.89 L38.73 170.81 L44.08 166.27 L41.17 165.35z" class="p"/><path d="M55.76 169.97 L58.7 170.9 L63.95 166.36 L61.02 165.44z" class="p"/><path d="M75.72 170.06 L78.68 170.99 L83.82 166.44 L80.88 165.52z" class="p"/><path d="M95.68 170.14 L98.66 171.07 L103.7 166.53 L100.73 165.61z" class="p"/><path d="M115.64 170.23 L118.64 171.16 L123.58 166.61 L120.59 165.69z" class="p"/><path d="M117.61 164.77 L120.59 165.69 L125.44 54.36 L125 161.05 L124.5 160.9 L123.89 53.95 L123.51 160.6 L122.52 160.29z" style="fill: #35b779"/><path d="M135.61 170.32 L138.63 171.25 L143.47 166.7 L140.46 165.78z" class="p"/><path d="M146.49 167.62 L147.49 167.93 L148.93 60.68 L148.5 168.24 L149.51 168.55 L154.28 164.03 L151.27 163.11z" style="fill: #31688e"/><path d="M175.55 170.49 L178.61 171.42 L183.25 166.87 L180.2 165.95z" class="p"/><path d="M195.53 170.57 L198.61 171.5 L203.15 166.95 L200.08 166.03z" class="p"/><path d="M38.73 170.81 L41.65 171.75 L46.99 167.19 L44.08 166.27z" class="p"/><path d="M58.7 170.9 L61.64 171.83 L66.88 167.28 L63.95 166.36z" class="p"/><path d="M78.68 170.99 L81.64 171.92 L86.78 167.37 L83.82 166.44z" class="p"/><path d="M98.66 171.07 L101.64 172 L106.68 167.45 L103.7 166.53z" class="p"/><path d="M118.64 171.16 L121.65 172.09 L126.58 167.54 L123.58 166.61z" class="p"/><path d="M149.51 168.55 L151.53 169.16 L153.15 61.81 L152.54 169.47 L157.3 164.94 L154.28 164.03z" style="fill: #31688e"/><path d="M178.61 171.42 L181.68 172.35 L186.31 167.79 L183.25 166.87z" class="p"/><path d="M198.61 171.5 L201.7 172.44 L206.23 167.88 L203.15 166.95z" class="p"/><path d="M41.65 171.75 L44.58 172.68 L49.91 168.12 L46.99 167.19z" class="p"/><path d="M61.64 171.83 L64.59 172.77 L69.82 168.2 L66.88 167.28z" class="p"/><path d="M81.64 171.92 L84.61 172.85 L89.74 168.29 L86.78 167.37z" class="p"/><path d="M101.64 172 L104.63 172.94 L109.66 168.37 L106.68 167.45z" class="p"/><path d="M121.65 172.09 L124.66 173.03 L129.58 168.46 L126.58 167.54z" class="p"/><path d="M123.58 166.61 L126.58 167.54 L131.46 163.03 L131.15 55.9 L130.47 162.72 L130.11 55.62 L129.47 162.42 L128.48 162.11z" style="fill: #35b779"/><path d="M132.59 169.39 L135.61 170.32 L140.46 165.78 L137.95 165.01 L137.92 57.72z" style="fill: #31688e"/><path d="M201.7 172.44 L203.25 172.9 L207.77 168.34 L206.23 167.88z" class="p"/><path d="M181.68 172.35 L184.76 173.28 L189.38 168.72 L186.31 167.79z" class="p"/><path d="M44.58 172.68 L47.51 173.61 L52.83 169.04 L49.91 168.12z" class="p"/><path d="M64.59 172.77 L67.55 173.7 L72.77 169.13 L69.82 168.2z" class="p"/><path d="M84.61 172.85 L87.59 173.79 L92.7 169.22 L89.74 168.29z" class="p"/><path d="M104.63 172.94 L107.63 173.87 L112.65 169.3 L109.66 168.37z" class="p"/><path d="M124.66 173.03 L127.68 173.96 L132.59 169.39 L129.58 168.46z" class="p"/><path d="M184.76 173.28 L187.84 174.22 L192.45 169.64 L189.38 168.72z" class="p"/><path d="M47.51 173.61 L50.45 174.55 L55.76 169.97 L52.83 169.04z" class="p"/><path d="M67.55 173.7 L70.51 174.64 L75.72 170.06 L72.77 169.13z" class="p"/><path d="M87.59 173.79 L90.57 174.73 L95.68 170.14 L92.7 169.22z" class="p"/><path d="M107.63 173.87 L110.64 174.81 L115.64 170.23 L112.65 169.3z" class="p"/><path d="M127.68 173.96 L130.7 174.9 L135.61 170.32 L132.59 169.39z" class="p"/><path d="M129.58 168.46 L132.59 169.39 L137.92 57.72 L136.95 164.71 L135.45 164.25 L135.31 57.02 L134.45 163.94z" style="fill: #35b779"/><path d="M138.63 171.25 L141.65 172.18 L146.49 167.62 L144.47 167.01 L144.73 59.55 L143.47 166.7z" style="fill: #31688e"/><path d="M158.62 171.33 L161.16 172.11 L163.21 64.51 L166.4 167.71 L163.36 166.78z" style="fill: #31688e"/><path d="M187.84 174.22 L190.93 175.16 L195.53 170.57 L192.45 169.64z" class="p"/><path d="M30.4 174.46 L33.33 175.4 L38.73 170.81 L35.81 169.89z" class="p"/><path d="M50.45 174.55 L53.4 175.49 L58.7 170.9 L55.76 169.97z" class="p"/><path d="M70.51 174.64 L73.48 175.58 L78.68 170.99 L75.72 170.06z" class="p"/><path d="M90.57 174.73 L93.56 175.66 L98.66 171.07 L95.68 170.14z" class="p"/><path d="M110.64 174.81 L113.65 175.75 L118.64 171.16 L115.64 170.23z" class="p"/><path d="M130.7 174.9 L133.74 175.84 L138.63 171.25 L135.61 170.32z" class="p"/><path d="M141.65 172.18 L144.69 173.11 L149.51 168.55 L148.5 168.24 L148.93 60.68 L147.49 167.93 L146.49 167.62z" style="fill: #31688e"/><path d="M152.54 169.47 L153.05 169.63 L154.73 62.23 L154.06 169.94 L155.07 170.25 L156.85 62.8 L160.33 165.86 L157.3 164.94z" style="fill: #35b779"/><path d="M190.93 175.16 L194.03 176.1 L198.61 171.5 L195.53 170.57z" class="p"/><path d="M33.33 175.4 L36.26 176.34 L41.65 171.75 L38.73 170.81z" class="p"/><path d="M53.4 175.49 L56.35 176.43 L61.64 171.83 L58.7 170.9z" class="p"/><path d="M73.48 175.58 L76.45 176.52 L81.64 171.92 L78.68 170.99z" class="p"/><path d="M93.56 175.66 L96.56 176.61 L101.64 172 L98.66 171.07z" class="p"/><path d="M113.65 175.75 L116.66 176.69 L121.65 172.09 L118.64 171.16z" class="p"/><path d="M133.74 175.84 L136.77 176.78 L141.65 172.18 L138.63 171.25z" class="p"/><path d="M144.69 173.11 L147.73 174.05 L152.54 169.47 L153.15 61.81 L151.53 169.16 L149.51 168.55z" style="fill: #31688e"/><path d="M173.93 176.01 L177.01 176.96 L181.68 172.35 L178.61 171.42z" class="p"/><path d="M156.85 62.8 L156.08 170.56 L157.1 170.87 L158.96 63.37 L158.11 171.18 L158.62 171.33 L163.36 166.78 L160.33 165.86z" style="fill: #35b779"/><path d="M194.03 176.1 L197.13 177.04 L201.7 172.44 L198.61 171.5z" class="p"/><path d="M36.26 176.34 L39.19 177.29 L44.58 172.68 L41.65 171.75z" class="p"/><path d="M56.35 176.43 L59.31 177.37 L64.59 172.77 L61.64 171.83z" class="p"/><path d="M76.45 176.52 L79.43 177.46 L84.61 172.85 L81.64 171.92z" class="p"/><path d="M96.56 176.61 L99.56 177.55 L104.63 172.94 L101.64 172z" class="p"/><path d="M116.66 176.69 L119.69 177.64 L124.66 173.03 L121.65 172.09z" class="p"/><path d="M136.77 176.78 L139.82 177.72 L144.69 173.11 L141.65 172.18z" class="p"/><path d="M197.13 177.04 L198.68 177.51 L203.25 172.9 L201.7 172.44z" class="p"/><path d="M39.19 177.29 L42.14 178.23 L47.51 173.61 L44.58 172.68z" class="p"/><path d="M59.31 177.37 L62.28 178.32 L67.55 173.7 L64.59 172.77z" class="p"/><path d="M79.43 177.46 L82.42 178.41 L87.59 173.79 L84.61 172.85z" class="p"/><path d="M99.56 177.55 L102.57 178.5 L107.63 173.87 L104.63 172.94z" class="p"/><path d="M119.69 177.64 L122.72 178.58 L127.68 173.96 L124.66 173.03z" class="p"/><path d="M139.82 177.72 L142.87 178.67 L147.73 174.05 L144.69 173.11z" class="p"/><path d="M172.81 67.09 L171.36 175.23 L173.93 176.01 L178.61 171.42 L175.55 170.49z" style="fill: #31688e"/><path d="M42.14 178.23 L45.09 179.18 L50.45 174.55 L47.51 173.61z" class="p"/><path d="M62.28 178.32 L65.25 179.27 L70.51 174.64 L67.55 173.7z" class="p"/><path d="M82.42 178.41 L85.41 179.35 L90.57 174.73 L87.59 173.79z" class="p"/><path d="M102.57 178.5 L105.58 179.44 L110.64 174.81 L107.63 173.87z" class="p"/><path d="M122.72 178.58 L125.75 179.53 L130.7 174.9 L127.68 173.96z" class="p"/><path d="M142.87 178.67 L145.93 179.62 L150.78 174.99 L147.73 174.05z" class="p"/><path d="M153.83 175.93 L156.89 176.87 L163.21 64.51 L161.16 172.11 L158.62 171.33z" style="fill: #31688e"/><path d="M166.4 65.37 L165.23 173.35 L165.74 173.51 L168 65.8 L166.76 173.82 L167.78 174.13 L172.49 169.56 L169.44 168.63z" style="fill: #35b779"/><path d="M24.93 179.09 L27.87 180.04 L33.33 175.4 L30.4 174.46z" class="p"/><path d="M45.09 179.18 L48.04 180.13 L53.4 175.49 L50.45 174.55z" class="p"/><path d="M65.25 179.27 L68.23 180.22 L73.48 175.58 L70.51 174.64z" class="p"/><path d="M85.41 179.35 L88.41 180.3 L93.56 175.66 L90.57 174.73z" class="p"/><path d="M105.58 179.44 L108.6 180.39 L113.65 175.75 L110.64 174.81z" class="p"/><path d="M125.75 179.53 L128.79 180.48 L133.74 175.84 L130.7 174.9z" class="p"/><path d="M145.93 179.62 L148.99 180.57 L153.83 175.93 L150.78 174.99z" class="p"/><path d="M147.73 174.05 L150.78 174.99 L156.85 62.8 L155.07 170.25 L154.06 169.94 L154.73 62.23 L153.05 169.63 L152.54 169.47z" style="fill: #35b779"/><path d="M167.78 174.13 L168.29 174.29 L170.67 66.52 L169.32 174.6 L170.34 174.92 L172.81 67.09 L175.55 170.49 L172.49 169.56z" style="fill: #35b779"/><path d="M27.87 180.04 L30.81 180.99 L36.26 176.34 L33.33 175.4z" class="p"/><path d="M48.04 180.13 L51.01 181.08 L56.35 176.43 L53.4 175.49z" class="p"/><path d="M68.23 180.22 L71.21 181.17 L76.45 176.52 L73.48 175.58z" class="p"/><path d="M88.41 180.3 L91.42 181.26 L96.56 176.61 L93.56 175.66z" class="p"/><path d="M108.6 180.39 L111.63 181.34 L116.66 176.69 L113.65 175.75z" class="p"/><path d="M128.79 180.48 L131.84 181.43 L136.77 176.78 L133.74 175.84z" class="p"/><path d="M148.99 180.57 L152.06 181.52 L156.89 176.87 L153.83 175.93z" class="p"/><path d="M150.78 174.99 L153.83 175.93 L158.62 171.33 L158.11 171.18 L158.96 63.37 L157.1 170.87 L156.08 170.56 L156.85 62.8z" style="fill: #35b779"/><path d="M169.19 180.66 L172.28 181.61 L177.01 176.96 L173.93 176.01z" class="p"/><path d="M163.21 64.51 L162.18 172.42 L164.27 64.8 L163.19 172.73 L164.21 173.04 L166.4 65.37 L169.44 168.63 L166.4 167.71z" style="fill: #fde725"/><path d="M30.81 180.99 L33.75 181.94 L39.19 177.29 L36.26 176.34z" class="p"/><path d="M51.01 181.08 L53.97 182.03 L59.31 177.37 L56.35 176.43z" class="p"/><path d="M71.21 181.17 L74.2 182.12 L79.43 177.46 L76.45 176.52z" class="p"/><path d="M91.42 181.26 L94.43 182.21 L99.56 177.55 L96.56 176.61z" class="p"/><path d="M111.63 181.34 L114.66 182.3 L119.69 177.64 L116.66 176.69z" class="p"/><path d="M131.84 181.43 L134.9 182.38 L139.82 177.72 L136.77 176.78z" class="p"/><path d="M192.51 181.7 L194.07 182.17 L198.68 177.51 L197.13 177.04z" class="p"/><path d="M152.06 181.52 L155.14 182.47 L159.95 177.81 L156.89 176.87z" class="p"/><path d="M33.75 181.94 L36.71 182.9 L42.14 178.23 L39.19 177.29z" class="p"/><path d="M53.97 182.03 L56.95 182.99 L62.28 178.32 L59.31 177.37z" class="p"/><path d="M74.2 182.12 L77.2 183.08 L82.42 178.41 L79.43 177.46z" class="p"/><path d="M94.43 182.21 L97.45 183.16 L102.57 178.5 L99.56 177.55z" class="p"/><path d="M114.66 182.3 L117.7 183.25 L122.72 178.58 L119.69 177.64z" class="p"/><path d="M134.9 182.38 L137.96 183.34 L142.87 178.67 L139.82 177.72z" class="p"/><path d="M155.14 182.47 L158.22 183.43 L163.03 178.76 L159.95 177.81z" class="p"/><path d="M166.11 179.71 L169.19 180.66 L173.93 176.01 L171.36 175.23 L172.81 67.09z" style="fill: #31688e"/><path d="M177.01 176.96 L178.04 177.27 L180.85 69.26 L179.06 177.58 L179.58 177.74 L182.47 69.69 L184.76 173.28 L181.68 172.35z" style="fill: #35b779"/><path d="M36.71 182.9 L39.67 183.85 L45.09 179.18 L42.14 178.23z" class="p"/><path d="M56.95 182.99 L59.93 183.94 L65.25 179.27 L62.28 178.32z" class="p"/><path d="M77.2 183.08 L80.2 184.03 L85.41 179.35 L82.42 178.41z" class="p"/><path d="M97.45 183.16 L100.47 184.12 L105.58 179.44 L102.57 178.5z" class="p"/><path d="M117.7 183.25 L120.75 184.21 L125.75 179.53 L122.72 178.58z" class="p"/><path d="M137.96 183.34 L141.03 184.3 L145.93 179.62 L142.87 178.67z" class="p"/><path d="M158.22 183.43 L161.31 184.39 L166.11 179.71 L163.03 178.76z" class="p"/><path d="M159.95 177.81 L163.03 178.76 L167.78 174.13 L166.76 173.82 L168 65.8 L165.74 173.51 L165.23 173.35 L166.4 65.37z" style="fill: #35b779"/><path d="M182.47 69.69 L180.61 178.06 L183.54 69.98 L181.64 178.37 L183.19 178.85 L187.84 174.22 L184.76 173.28z" style="fill: #35b779"/><path d="M39.67 183.85 L42.63 184.81 L48.04 180.13 L45.09 179.18z" class="p"/><path d="M59.93 183.94 L62.92 184.9 L68.23 180.22 L65.25 179.27z" class="p"/><path d="M80.2 184.03 L83.21 184.99 L88.41 180.3 L85.41 179.35z" class="p"/><path d="M100.47 184.12 L103.5 185.08 L108.6 180.39 L105.58 179.44z" class="p"/><path d="M120.75 184.21 L123.8 185.17 L128.79 180.48 L125.75 179.53z" class="p"/><path d="M141.03 184.3 L144.1 185.26 L148.99 180.57 L145.93 179.62z" class="p"/><path d="M161.31 184.39 L164.41 185.35 L169.19 180.66 L166.11 179.71z" class="p"/><path d="M163.03 178.76 L166.11 179.71 L172.81 67.09 L170.34 174.92 L169.32 174.6 L170.67 66.52 L168.29 174.29 L167.78 174.13z" style="fill: #35b779"/><path d="M183.19 178.85 L186.24 70.7 L184.22 179.16 L187.32 70.99 L185.26 179.48 L186.29 179.79 L190.93 175.16 L187.84 174.22z" style="fill: #35b779"/><path d="M42.63 184.81 L45.6 185.77 L51.01 181.08 L48.04 180.13z" class="p"/><path d="M62.92 184.9 L65.91 185.86 L71.21 181.17 L68.23 180.22z" class="p"/><path d="M83.21 184.99 L86.22 185.95 L91.42 181.26 L88.41 180.3z" class="p"/><path d="M103.5 185.08 L106.54 186.04 L111.63 181.34 L108.6 180.39z" class="p"/><path d="M123.8 185.17 L126.86 186.13 L131.84 181.43 L128.79 180.48z" class="p"/><path d="M144.1 185.26 L147.18 186.22 L152.06 181.52 L148.99 180.57z" class="p"/><path d="M164.41 185.35 L167.51 186.31 L172.28 181.61 L169.19 180.66z" class="p"/><path d="M156.89 176.87 L159.95 177.81 L166.4 65.37 L164.21 173.04 L163.19 172.73 L164.27 64.8 L162.18 172.42 L163.21 64.51z" style="fill: #fde725"/><path d="M186.29 179.79 L189.48 71.57 L187.32 180.11 L188.88 180.59 L192.19 72.3 L194.03 176.1 L190.93 175.16z" style="fill: #35b779"/><path d="M45.6 185.77 L48.58 186.74 L53.97 182.03 L51.01 181.08z" class="p"/><path d="M65.91 185.86 L68.91 186.83 L74.2 182.12 L71.21 181.17z" class="p"/><path d="M86.22 185.95 L89.25 186.92 L94.43 182.21 L91.42 181.26z" class="p"/><path d="M106.54 186.04 L109.58 187 L114.66 182.3 L111.63 181.34z" class="p"/><path d="M126.86 186.13 L129.92 187.09 L134.9 182.38 L131.84 181.43z" class="p"/><path d="M187.84 186.4 L189.41 186.88 L194.07 182.17 L192.51 181.7z" class="p"/><path d="M147.18 186.22 L150.27 187.18 L155.14 182.47 L152.06 181.52z" class="p"/><path d="M167.51 186.31 L170.62 187.27 L175.38 182.56 L172.28 181.61z" class="p"/><path d="M192.19 72.3 L189.91 180.9 L190.43 181.06 L193.82 72.74 L191.47 181.38 L192.51 181.7 L197.13 177.04 L194.03 176.1z" style="fill: #35b779"/><path d="M48.58 186.74 L51.57 187.7 L56.95 182.99 L53.97 182.03z" class="p"/><path d="M68.91 186.83 L71.92 187.79 L77.2 183.08 L74.2 182.12z" class="p"/><path d="M89.25 186.92 L92.27 187.88 L97.45 183.16 L94.43 182.21z" class="p"/><path d="M109.58 187 L112.63 187.97 L117.7 183.25 L114.66 182.3z" class="p"/><path d="M129.92 187.09 L133 188.06 L137.96 183.34 L134.9 182.38z" class="p"/><path d="M150.27 187.18 L153.36 188.15 L158.22 183.43 L155.14 182.47z" class="p"/><path d="M170.62 187.27 L173.74 188.24 L178.49 183.52 L175.38 182.56z" class="p"/><path d="M172.28 181.61 L175.38 182.56 L182.47 69.69 L179.58 177.74 L179.06 177.58 L180.85 69.26 L178.04 177.27 L177.01 176.96z" style="fill: #35b779"/><path d="M51.57 187.7 L54.56 188.67 L59.93 183.94 L56.95 182.99z" class="p"/><path d="M71.92 187.79 L74.93 188.76 L80.2 184.03 L77.2 183.08z" class="p"/><path d="M92.27 187.88 L95.31 188.85 L100.47 184.12 L97.45 183.16z" class="p"/><path d="M112.63 187.97 L115.69 188.94 L120.75 184.21 L117.7 183.25z" class="p"/><path d="M133 188.06 L136.08 189.03 L141.03 184.3 L137.96 183.34z" class="p"/><path d="M153.36 188.15 L156.46 189.12 L161.31 184.39 L158.22 183.43z" class="p"/><path d="M173.74 188.24 L176.86 189.21 L181.6 184.48 L178.49 183.52z" class="p"/><path d="M175.38 182.56 L178.49 183.52 L183.19 178.85 L181.64 178.37 L183.54 69.98 L180.61 178.06 L182.47 69.69z" style="fill: #35b779"/><path d="M54.56 188.67 L57.56 189.64 L62.92 184.9 L59.93 183.94z" class="p"/><path d="M74.93 188.76 L77.95 189.73 L83.21 184.99 L80.2 184.03z" class="p"/><path d="M95.31 188.85 L98.35 189.82 L103.5 185.08 L100.47 184.12z" class="p"/><path d="M115.69 188.94 L118.75 189.91 L123.8 185.17 L120.75 184.21z" class="p"/><path d="M136.08 189.03 L139.16 190 L144.1 185.26 L141.03 184.3z" class="p"/><path d="M156.46 189.12 L159.57 190.09 L164.41 185.35 L161.31 184.39z" class="p"/><path d="M176.86 189.21 L179.99 190.18 L184.72 185.44 L181.6 184.48z" class="p"/><path d="M178.49 183.52 L181.6 184.48 L186.29 179.79 L185.26 179.48 L187.32 70.99 L184.22 179.16 L186.24 70.7 L183.19 178.85z" style="fill: #35b779"/><path d="M57.56 189.64 L60.56 190.61 L65.91 185.86 L62.92 184.9z" class="p"/><path d="M98.35 189.82 L101.4 190.79 L106.54 186.04 L103.5 185.08z" class="p"/><path d="M118.75 189.91 L121.82 190.88 L126.86 186.13 L123.8 185.17z" class="p"/><path d="M139.16 190 L142.25 190.97 L147.18 186.22 L144.1 185.26z" class="p"/><path d="M159.57 190.09 L162.69 191.06 L167.51 186.31 L164.41 185.35z" class="p"/><path d="M179.99 190.18 L183.12 191.15 L187.84 186.4 L184.72 185.44z" class="p"/><path d="M181.6 184.48 L184.72 185.44 L192.19 72.3 L188.88 180.59 L187.32 180.11 L189.48 71.57 L186.29 179.79z" style="fill: #35b779"/><path d="M60.56 190.61 L63.57 191.58 L68.91 186.83 L65.91 185.86z" class="p"/><path d="M80.98 190.7 L84.01 191.67 L89.25 186.92 L86.22 185.95z" class="p"/><path d="M101.4 190.79 L104.45 191.76 L109.58 187 L106.54 186.04z" class="p"/><path d="M121.82 190.88 L124.9 191.85 L129.92 187.09 L126.86 186.13z" class="p"/><path d="M183.12 191.15 L184.69 191.64 L189.41 186.88 L187.84 186.4z" class="p"/><path d="M142.25 190.97 L145.35 191.94 L150.27 187.18 L147.18 186.22z" class="p"/><path d="M162.69 191.06 L165.81 192.03 L170.62 187.27 L167.51 186.31z" class="p"/><path d="M184.72 185.44 L187.84 186.4 L192.51 181.7 L191.47 181.38 L193.82 72.74 L190.43 181.06 L189.91 180.9 L192.19 72.3z" style="fill: #35b779"/><path d="M63.57 191.58 L66.59 192.56 L71.92 187.79 L68.91 186.83z" class="p"/><path d="M84.01 191.67 L87.05 192.65 L92.27 187.88 L89.25 186.92z" class="p"/><path d="M104.45 191.76 L107.51 192.74 L112.63 187.97 L109.58 187z" class="p"/><path d="M124.9 191.85 L127.98 192.83 L133 188.06 L129.92 187.09z" class="p"/><path d="M145.35 191.94 L148.46 192.92 L153.36 188.15 L150.27 187.18z" class="p"/><path d="M165.81 192.03 L168.93 193.01 L173.74 188.24 L170.62 187.27z" class="p"/><path d="M66.59 192.56 L69.61 193.53 L74.93 188.76 L71.92 187.79z" class="p"/><path d="M87.05 192.65 L90.09 193.63 L95.31 188.85 L92.27 187.88z" class="p"/><path d="M77.95 189.73 L79.46 190.21 L77.85 81.16 L80.47 190.54 L80.98 190.7 L86.22 185.95 L83.21 184.99z" style="fill: #31688e"/><path d="M107.51 192.74 L110.58 193.72 L115.69 188.94 L112.63 187.97z" class="p"/><path d="M127.98 192.83 L131.07 193.81 L136.08 189.03 L133 188.06z" class="p"/><path d="M148.46 192.92 L151.57 193.9 L156.46 189.12 L153.36 188.15z" class="p"/><path d="M168.93 193.01 L172.07 193.99 L176.86 189.21 L173.74 188.24z" class="p"/><path d="M69.61 193.53 L72.64 194.51 L77.95 189.73 L74.93 188.76z" class="p"/><path d="M90.09 193.63 L93.14 194.6 L98.35 189.82 L95.31 188.85z" class="p"/><path d="M110.58 193.72 L113.65 194.7 L118.75 189.91 L115.69 188.94z" class="p"/><path d="M131.07 193.81 L134.17 194.79 L139.16 190 L136.08 189.03z" class="p"/><path d="M151.57 193.9 L154.69 194.88 L159.57 190.09 L156.46 189.12z" class="p"/><path d="M172.07 193.99 L175.21 194.97 L179.99 190.18 L176.86 189.21z" class="p"/><path d="M93.14 194.6 L96.2 195.59 L101.4 190.79 L98.35 189.82z" class="p"/><path d="M113.65 194.7 L116.73 195.68 L121.82 190.88 L118.75 189.91z" class="p"/><path d="M134.17 194.79 L137.27 195.77 L142.25 190.97 L139.16 190z" class="p"/><path d="M154.69 194.88 L157.81 195.86 L162.69 191.06 L159.57 190.09z" class="p"/><path d="M175.21 194.97 L178.36 195.95 L183.12 191.15 L179.99 190.18z" class="p"/><path d="M75.67 195.5 L78.72 196.48 L84.01 191.67 L80.98 190.7z" class="p"/><path d="M96.2 195.59 L99.27 196.57 L104.45 191.76 L101.4 190.79z" class="p"/><path d="M116.73 195.68 L119.82 196.66 L124.9 191.85 L121.82 190.88z" class="p"/><path d="M178.36 195.95 L179.93 196.44 L184.69 191.64 L183.12 191.15z" class="p"/><path d="M137.27 195.77 L140.38 196.75 L145.35 191.94 L142.25 190.97z" class="p"/><path d="M157.81 195.86 L160.94 196.84 L165.81 192.03 L162.69 191.06z" class="p"/><path d="M78.72 196.48 L81.77 197.46 L87.05 192.65 L84.01 191.67z" class="p"/><path d="M99.27 196.57 L102.34 197.56 L107.51 192.74 L104.45 191.76z" class="p"/><path d="M119.82 196.66 L122.92 197.65 L127.98 192.83 L124.9 191.85z" class="p"/><path d="M140.38 196.75 L143.5 197.74 L148.46 192.92 L145.35 191.94z" class="p"/><path d="M160.94 196.84 L164.08 197.83 L168.93 193.01 L165.81 192.03z" class="p"/><path d="M72.64 194.51 L75.67 195.5 L80.98 190.7 L80.47 190.54 L77.85 81.16 L79.46 190.21 L77.95 189.73z" style="fill: #31688e"/><path d="M81.77 197.46 L84.82 198.45 L90.09 193.63 L87.05 192.65z" class="p"/><path d="M102.34 197.56 L105.42 198.54 L110.58 193.72 L107.51 192.74z" class="p"/><path d="M122.92 197.65 L126.02 198.64 L131.07 193.81 L127.98 192.83z" class="p"/><path d="M143.5 197.74 L146.62 198.73 L151.57 193.9 L148.46 192.92z" class="p"/><path d="M164.08 197.83 L167.23 198.82 L172.07 193.99 L168.93 193.01z" class="p"/><path d="M84.82 198.45 L87.88 199.44 L93.14 194.6 L90.09 193.63z" class="p"/><path d="M105.42 198.54 L108.5 199.53 L113.65 194.7 L110.58 193.72z" class="p"/><path d="M126.02 198.64 L129.12 199.63 L134.17 194.79 L131.07 193.81z" class="p"/><path d="M146.62 198.73 L149.75 199.72 L154.69 194.88 L151.57 193.9z" class="p"/><path d="M167.23 198.82 L170.38 199.81 L175.21 194.97 L172.07 193.99z" class="p"/><path d="M87.88 199.44 L90.95 200.43 L96.2 195.59 L93.14 194.6z" class="p"/><path d="M108.5 199.53 L111.59 200.53 L116.73 195.68 L113.65 194.7z" class="p"/><path d="M129.12 199.63 L132.24 200.62 L137.27 195.77 L134.17 194.79z" class="p"/><path d="M149.75 199.72 L152.89 200.71 L157.81 195.86 L154.69 194.88z" class="p"/><path d="M170.38 199.81 L173.54 200.8 L178.36 195.95 L175.21 194.97z" class="p"/><path d="M90.95 200.43 L94.03 201.43 L99.27 196.57 L96.2 195.59z" class="p"/><path d="M111.59 200.53 L114.69 201.52 L119.82 196.66 L116.73 195.68z" class="p"/><path d="M173.54 200.8 L175.12 201.3 L179.93 196.44 L178.36 195.95z" class="p"/><path d="M132.24 200.62 L135.36 201.61 L140.38 196.75 L137.27 195.77z" class="p"/><path d="M152.89 200.71 L156.03 201.71 L160.94 196.84 L157.81 195.86z" class="p"/><path d="M94.03 201.43 L97.11 202.43 L102.34 197.56 L99.27 196.57z" class="p"/><path d="M114.69 201.52 L117.8 202.52 L122.92 197.65 L119.82 196.66z" class="p"/><path d="M135.36 201.61 L138.49 202.61 L143.5 197.74 L140.38 196.75z" class="p"/><path d="M156.03 201.71 L159.18 202.7 L164.08 197.83 L160.94 196.84z" class="p"/><path d="M97.11 202.43 L100.2 203.42 L105.42 198.54 L102.34 197.56z" class="p"/><path d="M117.8 202.52 L120.91 203.52 L126.02 198.64 L122.92 197.65z" class="p"/><path d="M138.49 202.61 L141.62 203.61 L146.62 198.73 L143.5 197.74z" class="p"/><path d="M159.18 202.7 L162.34 203.7 L167.23 198.82 L164.08 197.83z" class="p"/><path d="M100.2 203.42 L103.29 204.42 L108.5 199.53 L105.42 198.54z" class="p"/><path d="M120.91 203.52 L124.02 204.52 L129.12 199.63 L126.02 198.64z" class="p"/><path d="M141.62 203.61 L144.76 204.61 L149.75 199.72 L146.62 198.73z" class="p"/><path d="M162.34 203.7 L165.5 204.7 L170.38 199.81 L167.23 198.82z" class="p"/><path d="M103.29 204.42 L106.4 205.43 L111.59 200.53 L108.5 199.53z" class="p"/><path d="M124.02 204.52 L127.15 205.52 L132.24 200.62 L129.12 199.63z" class="p"/><path d="M144.76 204.61 L147.91 205.61 L152.89 200.71 L149.75 199.72z" class="p"/><path d="M165.5 204.7 L168.67 205.71 L173.54 200.8 L170.38 199.81z" class="p"/><path d="M106.4 205.43 L109.5 206.43 L114.69 201.52 L111.59 200.53z" class="p"/><path d="M168.67 205.71 L170.26 206.21 L175.12 201.3 L173.54 200.8z" class="p"/><path d="M127.15 205.52 L130.28 206.53 L135.36 201.61 L132.24 200.62z" class="p"/><path d="M147.91 205.61 L151.06 206.62 L156.03 201.71 L152.89 200.71z" class="p"/><path d="M109.5 206.43 L112.62 207.44 L117.8 202.52 L114.69 201.52z" class="p"/><path d="M130.28 206.53 L133.42 207.53 L138.49 202.61 L135.36 201.61z" class="p"/><path d="M151.06 206.62 L154.22 207.63 L159.18 202.7 L156.03 201.71z" class="p"/><path d="M112.62 207.44 L115.74 208.45 L120.91 203.52 L117.8 202.52z" class="p"/><path d="M133.42 207.53 L136.57 208.54 L141.62 203.61 L138.49 202.61z" class="p"/><path d="M154.22 207.63 L157.39 208.64 L162.34 203.7 L159.18 202.7z" class="p"/><path d="M115.74 208.45 L118.87 209.46 L124.02 204.52 L120.91 203.52z" class="p"/><path d="M136.57 208.54 L139.72 209.55 L144.76 204.61 L141.62 203.61z" class="p"/><path d="M157.39 208.64 L160.57 209.65 L165.5 204.7 L162.34 203.7z" class="p"/><path d="M118.87 209.46 L122.01 210.47 L127.15 205.52 L124.02 204.52z" class="p"/><path d="M139.72 209.55 L142.88 210.57 L147.91 205.61 L144.76 204.61z" class="p"/><path d="M160.57 209.65 L163.75 210.66 L168.67 205.71 L165.5 204.7z" class="p"/><path d="M163.75 210.66 L165.34 211.17 L170.26 206.21 L168.67 205.71z" class="p"/><path d="M122.01 210.47 L125.15 211.49 L130.28 206.53 L127.15 205.52z" class="p"/><path d="M142.88 210.57 L146.04 211.58 L151.06 206.62 L147.91 205.61z" class="p"/><path d="M125.15 211.49 L128.3 212.51 L133.42 207.53 L130.28 206.53z" class="p"/><path d="M146.04 211.58 L149.22 212.6 L154.22 207.63 L151.06 206.62z" class="p"/><path d="M128.3 212.51 L131.46 213.53 L136.57 208.54 L133.42 207.53z" class="p"/><path d="M149.22 212.6 L152.39 213.62 L157.39 208.64 L154.22 207.63z" class="p"/><path d="M131.46 213.53 L134.62 214.55 L139.72 209.55 L136.57 208.54z" class="p"/><path d="M152.39 213.62 L155.58 214.65 L160.57 209.65 L157.39 208.64z" class="p"/><path d="M134.62 214.55 L137.79 215.58 L142.88 210.57 L139.72 209.55z" class="p"/><path d="M155.58 214.65 L158.78 215.67 L163.75 210.66 L160.57 209.65z" class="p"/><path d="M158.78 215.67 L160.37 216.19 L165.34 211.17 L163.75 210.66z" class="p"/><path d="M137.79 215.58 L140.97 216.6 L146.04 211.58 L142.88 210.57z" class="p"/><path d="M140.97 216.6 L144.15 217.63 L149.22 212.6 L146.04 211.58z" class="p"/><path d="M144.15 217.63 L147.34 218.67 L152.39 213.62 L149.22 212.6z" class="p"/><path d="M147.34 218.67 L150.54 219.7 L155.58 214.65 L152.39 213.62z" class="p"/><path d="M150.54 219.7 L153.75 220.74 L158.78 215.67 L155.58 214.65z" class="p"/><path d="M153.75 220.74 L155.35 221.25 L160.37 216.19 L158.78 215.67z" class="p"/></g></g></g><defs></defs></svg>
</body></html>
